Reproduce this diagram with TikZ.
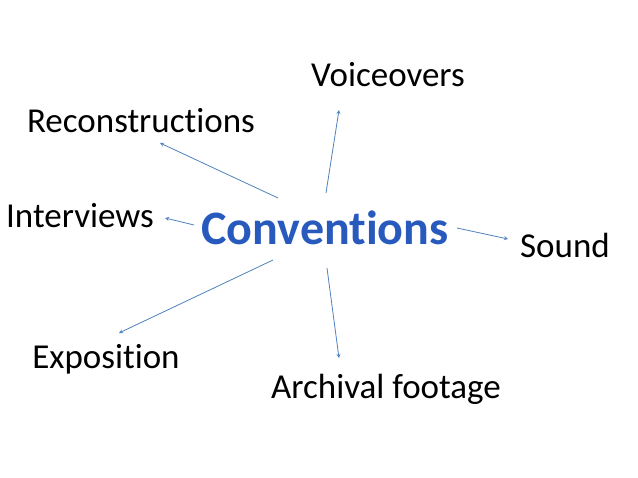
\documentclass[tikz,border=0pt]{standalone}
\usepackage{fontspec}
\setmainfont{Carlito}[Ligatures={NoCommon,NoRare}]
\definecolor{ln}{RGB}{79,129,189}
\definecolor{cv}{RGB}{40,90,190}
\begin{document}
\begin{tikzpicture}[x=1pt,y=-1pt,
  lbl/.style={font=\fontsize{35}{40}\selectfont,inner sep=0pt},
  arr/.style={draw=ln,line width=0.8pt,-stealth}]
\useasboundingbox (0,0) rectangle (638,478);
\node[lbl] (v) at (388,75) {Voiceovers};
\node[lbl] (r) at (141,121) {Reconstructions};
\node[lbl] (i) at (80,216) {Interviews};
\node[lbl] (s) at (565,245) {Sound};
\node[lbl] (e) at (106,359) {Exposition};
\node[lbl] (a) at (386,389) {Archival footage};
\node[font=\fontsize{48}{54}\bfseries\selectfont,text=cv,inner sep=0pt] (c) at (325,228) {Conventions};
\coordinate (c1) at (326,193); \coordinate (v1) at (339,110);
\coordinate (c2) at (278,198); \coordinate (r1) at (160,143);
\coordinate (c3) at (194,225); \coordinate (i1) at (165,218);
\coordinate (c4) at (457,228); \coordinate (s1) at (508,239);
\coordinate (c5) at (273,260); \coordinate (e1) at (119,333);
\coordinate (c6) at (327,268); \coordinate (a1) at (339,358);
\draw[arr] (c1) -- (v1);
\draw[arr] (c2) -- (r1);
\draw[arr] (c3) -- (i1);
\draw[arr] (c4) -- (s1);
\draw[arr] (c5) -- (e1);
\draw[arr] (c6) -- (a1);
\end{tikzpicture}
\end{document}
